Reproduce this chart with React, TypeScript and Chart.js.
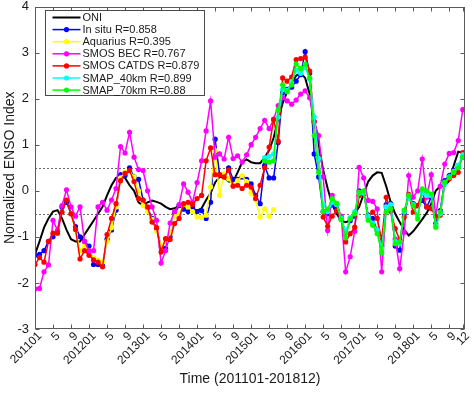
import React, { useEffect, useRef } from "react";
import { Chart, registerables } from "chart.js";

Chart.register(...registerables);

// ---- categories (monthly, 201101..201812) ----
const months: string[] = [];
for (let yr = 2011; yr <= 2018; yr++) {
  for (let m = 1; m <= 12; m++) months.push(`${yr}${String(m).padStart(2, "0")}`);
}

const tickMonths = [
  "201101", "201105", "201109", "201201", "201205", "201209",
  "201301", "201305", "201309", "201401", "201405", "201409",
  "201501", "201505", "201509", "201601", "201605", "201609",
  "201701", "201705", "201709", "201801", "201805", "201809", "201812",
];
const tickLabels = [
  "201101", "5", "9", "201201", "5", "9",
  "201301", "5", "9", "201401", "5", "9",
  "201501", "5", "9", "201601", "5", "9",
  "201701", "5", "9", "201801", "5", "9", "12",
];

const yMin = -3;
const yMax = 4;
const refLevels = [0.5, -0.5];

const seriesNames = [
  "ONI",
  "In situ R=0.858",
  "Aquarius R=0.395",
  "SMOS BEC R=0.767",
  "SMOS CATDS R=0.879",
  "SMAP_40km R=0.899",
  "SMAP_70km R=0.88",
];

// ---- series values (one row per year) ----
const oni = [
  -1.38, -1.1, -0.8, -0.6, -0.45, -0.42, -0.6, -0.85, -1.05, -1.1, -1.1, -0.95,
  -0.8, -0.65, -0.5, -0.35, -0.1, 0.12, 0.28, 0.3, 0.28, 0.12, 0.0, -0.25,
  -0.32, -0.25, -0.21, -0.24, -0.28, -0.35, -0.4, -0.38, -0.33, -0.3, -0.35, -0.43,
  -0.43, -0.38, -0.2, -0.05, 0.18, 0.3, 0.3, 0.2, 0.2, 0.4, 0.62, 0.68,
  0.62, 0.6, 0.6, 0.72, 0.88, 1.15, 1.55, 1.9, 2.15, 2.35, 2.5, 2.55,
  2.45, 2.1, 1.55, 1.0, 0.45, 0.05, -0.3, -0.5, -0.65, -0.68, -0.65, -0.5,
  -0.35, -0.07, 0.2, 0.33, 0.4, 0.39, 0.1, -0.25, -0.5, -0.68, -0.85, -0.97,
  -0.88, -0.75, -0.62, -0.48, -0.28, 0.0, 0.1, 0.12, 0.22, 0.55, 0.85, 0.82,
];

const inSitu = [
  -1.4, -1.38, -1.3, -1.1, -1.0, -0.88, -0.35, -0.25, -0.5, -0.78, -1.0, -1.1,
  -1.2, -1.6, -1.6, -1.62, -1.05, -0.85, -0.42, 0.35, 0.33, 0.5, 0.3, 0.25,
  -0.2, -0.37, -0.6, -0.82, -1.2, -1.25, -1.0, -0.5, -0.32, -0.4, -0.45, -0.35,
  -0.45, -0.43, -0.6, -0.25, 1.12, 0.35, 0.3, 0.5, 0.25, 0.25, 0.3, 0.25,
  0.15, -0.1, -0.28, 0.55, 0.28, 0.28, 1.05, 2.13, 2.2, 2.25, 2.38, 2.52,
  3.02, 2.55, 0.8, 0.3, -0.45, -0.5, -0.3, -0.4, -0.62, -0.9, -0.65, -0.55,
  0.0, -0.03, -0.53, -0.6, -0.86, -1.2, -0.3, -0.28, -1.2, -1.29, -0.5, -0.1,
  -0.28, -0.32, -0.21, -0.35, -0.14, -0.71, -0.43, 0.22, 0.33, 0.44, 0.55, 0.73,
];

const aquarius = [
  null, null, null, null, null, null, null, null, -0.5, -0.85, -1.3, -1.2,
  -1.3, -1.45, -1.5, -1.55, -1.1, -0.8, -0.35, 0.28, 0.4, 0.42, 0.3, 0.0,
  -0.32, -0.45, -0.62, -0.88, -1.18, -1.1, -0.92, -0.55, -0.5, -0.3, -0.35, -0.45,
  -0.57, -0.58, -0.53, 0.08, 0.87, -0.1, 0.37, 0.26, 0.12, 0.22, 0.33, 0.2,
  -0.05, -0.2, -0.57, -0.39, -0.55, -0.41, null, null, null, null, null, null,
  null, null, null, null, null, null, null, null, null, null, null, null,
  null, null, null, null, null, null, null, null, null, null, null, null,
  null, null, null, null, null, null, null, null, null, null, null, null,
];

const smosBec = [
  -2.13, -2.12, -1.76, -1.61, -0.64, -0.86, -0.32, 0.02, -0.35, -0.55, -0.35, -1.1,
  -1.3, -1.3, -0.35, -0.25, -0.42, -0.2, 0.05, 0.96, 0.82, 1.27, 0.73, 0.46,
  0.44, 0.0, -0.35, -0.64, -1.57, -1.3, -0.7, -0.45, -0.3, 0.15, -0.03, -0.25,
  0.18, 0.65, 1.3, 1.95, 0.73, 0.8, 0.69, 1.16, 0.7, 0.76, 0.62, 0.78,
  1.0, 1.16, 1.35, 1.53, 1.35, 1.55, 1.85, 2.02, 1.95, 1.88, 1.97, 2.1,
  2.17, 2.02, 1.5, 1.2, 0.3, -0.86, -0.1, -0.3, -0.55, -1.76, -1.43, -0.88,
  0.51, 0.28, -0.21, -0.23, -0.39, -1.76, -0.35, -0.45, -1.05, -1.69, -0.9, 0.33,
  -0.14, 0.0, 0.69, -0.14, 0.35, -0.55, 0.1, 0.58, 0.81, 0.83, 1.09, 1.76,
];

const smosCatds = [
  -1.6, -1.45, -1.55, -1.1, -0.92, -0.92, -0.46, -0.2, -0.5, -0.84, -1.48, -1.3,
  -1.4, -1.5, -1.55, -1.65, -0.95, -0.6, -0.28, 0.22, 0.38, 0.44, 0.2, -0.17,
  -0.2, -0.35, -0.68, -0.8, -1.33, -1.04, -1.06, -0.71, -0.6, -0.28, -0.25, -0.3,
  -0.17, -0.1, 0.65, 0.93, 0.35, 0.35, 0.3, 0.45, 0.1, 0.12, 0.05, 0.12,
  0.08, -0.17, 0.12, 0.5, 0.95, 1.55, 1.08, 2.45, 2.38, 2.47, 2.85, 2.87,
  2.9, 2.6, 1.5, 0.75, -0.57, -0.77, -0.55, -0.43, -0.6, -1.11, -0.93, -0.79,
  -0.1, -0.07, -0.57, -0.46, -0.6, -1.07, -0.14, -0.43, -0.82, -1.07, -0.57, -0.08,
  -0.46, -0.32, -0.03, -0.35, -0.39, -0.55, -0.53, 0.15, 0.26, 0.33, 0.4, 0.83,
];

const smap40 = [
  null, null, null, null, null, null, null, null, null, null, null, null,
  null, null, null, null, null, null, null, null, null, null, null, null,
  null, null, null, null, null, null, null, null, null, null, null, null,
  null, null, null, null, null, null, null, null, null, null, null, null,
  null, null, null, 0.72, 0.75, 0.8, 1.6, 2.2, 2.18, 2.35, 2.62, 2.55,
  2.68, 2.42, 1.6, 0.7, -0.3, -0.45, -0.25, -0.3, -0.6, -0.9, -0.58, -0.45,
  -0.05, -0.05, -0.55, -0.7, -0.85, -1.25, -0.35, -0.3, -1.1, -1.15, -0.45, -0.15,
  -0.3, -0.55, -0.05, -0.1, -0.1, -0.75, -0.5, 0.15, 0.3, 0.42, 0.55, 0.78,
];

const smap70 = [
  null, null, null, null, null, null, null, null, null, null, null, null,
  null, null, null, null, null, null, null, null, null, null, null, null,
  null, null, null, null, null, null, null, null, null, null, null, null,
  null, null, null, null, null, null, null, null, null, null, null, null,
  null, null, null, 0.65, 0.62, 0.65, 1.75, 2.3, 2.15, 2.3, 2.75, 2.65,
  2.75, 2.45, 1.2, 0.4, -0.45, -0.4, -0.17, -0.27, -0.63, -1.02, -0.61, -0.5,
  -0.03, 0.0, -0.64, -0.75, -0.93, -1.34, -0.46, -0.39, -1.15, -1.11, -0.42, -0.1,
  -0.32, -0.61, 0.04, 0.0, -0.07, -0.79, -0.46, 0.19, 0.29, 0.4, 0.5, 0.73,
];

const seriesValues = [oni, inSitu, aquarius, smosBec, smosCatds, smap40, smap70];
const seriesColors = ["#000000", "#0000ff", "#ffff00", "#ff00ff", "#ff0000", "#00ffff", "#00ff00"];

const FONT = "'Liberation Sans', Arial, Helvetica, sans-serif";
const AXIS_COLOR = "#5a5a5a";
const TEXT_COLOR = "#1a1a1a";

const tickPositions = tickMonths.map((m) => months.indexOf(m));

const framePlugin = {
  id: "matlabFrame",
  beforeDatasetsDraw(chart: any) {
    const { ctx, chartArea: a, scales } = chart;
    const y = scales.y;
    ctx.save();
    ctx.strokeStyle = "#6a6a6a";
    ctx.lineWidth = 1;
    ctx.setLineDash([2, 2]);
    for (const v of refLevels) {
      const py = Math.round(y.getPixelForValue(v)) + 0.5;
      ctx.beginPath();
      ctx.moveTo(a.left, py);
      ctx.lineTo(a.right, py);
      ctx.stroke();
    }
    ctx.restore();
  },
  afterDatasetsDraw(chart: any) {
    const { ctx, chartArea: a, scales } = chart;
    const x = scales.x;
    const y = scales.y;
    const L = Math.round(a.left) + 0.5;
    const R = Math.round(a.right) - 0.5;
    const T = Math.round(a.top) + 0.5;
    const B = Math.round(a.bottom) - 0.5;
    const tl = 4;
    ctx.save();
    ctx.strokeStyle = AXIS_COLOR;
    ctx.lineWidth = 1;
    ctx.setLineDash([]);
    ctx.strokeRect(L, T, R - L, B - T);
    ctx.beginPath();
    for (const t of x.ticks) {
      const px = Math.round(x.getPixelForValue(t.value)) + 0.5;
      ctx.moveTo(px, B);
      ctx.lineTo(px, B - tl);
      ctx.moveTo(px, T);
      ctx.lineTo(px, T + tl);
    }
    for (const t of y.ticks) {
      const py = Math.round(y.getPixelForValue(t.value)) + 0.5;
      ctx.moveTo(L, py);
      ctx.lineTo(L + tl, py);
      ctx.moveTo(R, py);
      ctx.lineTo(R - tl, py);
    }
    ctx.stroke();
    ctx.restore();
  },
};

const legendPlugin = {
  id: "matlabLegend",
  afterDraw(chart: any) {
    const { ctx, chartArea: a } = chart;
    ctx.save();
    ctx.font = `11px ${FONT}`;
    let maxW = 0;
    for (const n of seriesNames) maxW = Math.max(maxW, ctx.measureText(n).width);
    const bx = Math.round(a.left + 10) + 0.5;
    const by = Math.round(a.top + 3.5) + 0.5;
    const rowH = 12.1;
    const bw = Math.round(37 + maxW + 5);
    const bh = Math.round(seriesNames.length * rowH + 0.5);
    ctx.fillStyle = "#ffffff";
    ctx.fillRect(bx, by, bw, bh);
    ctx.strokeStyle = "#4a4a4a";
    ctx.lineWidth = 1;
    ctx.strokeRect(bx, by, bw, bh);
    seriesNames.forEach((name, k) => {
      const cy = by + 7 + k * rowH;
      ctx.strokeStyle = seriesColors[k];
      ctx.lineWidth = k === 0 ? 2 : 1.5;
      ctx.beginPath();
      ctx.moveTo(bx + 7, cy);
      ctx.lineTo(bx + 35, cy);
      ctx.stroke();
      if (k > 0) {
        ctx.fillStyle = seriesColors[k];
        ctx.beginPath();
        ctx.arc(bx + 21, cy, 2.6, 0, Math.PI * 2);
        ctx.fill();
      }
      ctx.fillStyle = TEXT_COLOR;
      ctx.textBaseline = "middle";
      ctx.textAlign = "left";
      ctx.fillText(name, bx + 37, cy + 0.5);
    });
    ctx.restore();
  },
};

export default function App() {
  const ref = useRef<HTMLCanvasElement | null>(null);

  useEffect(() => {
    if (!ref.current) return;
    Chart.defaults.font.family = FONT;
    Chart.defaults.color = TEXT_COLOR;

    const datasets = seriesValues.map((vals, k) => ({
      label: seriesNames[k],
      data: vals.map((v, i) => ({ x: i, y: v })),
      borderColor: seriesColors[k],
      backgroundColor: seriesColors[k],
      borderWidth: k === 0 ? 2 : 1.5,
      pointRadius: k === 0 ? 0 : 2.6,
      pointBorderWidth: 0,
      pointBackgroundColor: seriesColors[k],
      pointHoverRadius: 0,
      tension: 0,
      spanGaps: false,
      fill: false,
      order: seriesNames.length - k,
    }));

    const chart = new Chart(ref.current, {
      type: "line",
      data: { datasets } as any,
      options: {
        animation: false,
        responsive: false,
        events: [],
        layout: { padding: { left: 0, right: 9, top: 6.5, bottom: 0 } },
        plugins: { legend: { display: false }, tooltip: { enabled: false } },
        scales: {
          x: {
            type: "linear",
            min: 0,
            max: months.length - 0.5,
            grid: { display: false, drawTicks: false },
            border: { display: false },
            afterBuildTicks: (s: any) => {
              s.ticks = tickPositions.map((v) => ({ value: v }));
            },
            afterFit: (s: any) => {
              s.height = 64;
              s.paddingLeft = 0;
              s.paddingRight = 0;
            },
            ticks: {
              autoSkip: false,
              minRotation: 45,
              maxRotation: 45,
              padding: 0,
              labelOffset: 5,
              color: TEXT_COLOR,
              font: { size: 12 },
              callback: (v: any) => {
                const idx = tickPositions.indexOf(Number(v));
                return idx >= 0 ? tickLabels[idx] : "";
              },
            },
            title: {
              display: true,
              text: "Time (201101-201812)",
              color: TEXT_COLOR,
              font: { size: 14 },
              padding: { top: 0, bottom: 5 },
            },
          },
          y: {
            min: yMin,
            max: yMax,
            grid: { display: false, drawTicks: false },
            border: { display: false },
            afterFit: (s: any) => {
              s.width = 35;
              s.paddingTop = 0;
              s.paddingBottom = 0;
            },
            ticks: {
              stepSize: 1,
              padding: 6,
              color: TEXT_COLOR,
              font: { size: 13 },
            },
            title: {
              display: true,
              text: "Normalized ENSO Index",
              color: TEXT_COLOR,
              font: { size: 14 },
              padding: { top: 2, bottom: 0 },
            },
          },
        },
      },
      plugins: [framePlugin, legendPlugin],
    });
    return () => chart.destroy();
  }, []);

  return (
    <div style={{ position: "absolute", left: 0, top: 0, width: 474, height: 393, background: "#ffffff" }}>
      <canvas ref={ref} width={474} height={393} style={{ display: "block" }} />
    </div>
  );
}
